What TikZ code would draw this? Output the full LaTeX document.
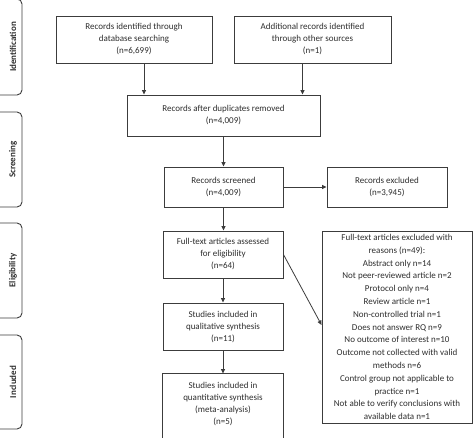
\documentclass[tikz,border=0pt]{standalone}
\usepackage{fontspec}
\setmainfont{Carlito}
\usetikzlibrary{arrows.meta,calc}
\definecolor{ln}{HTML}{3C3C3C}
\definecolor{tx}{HTML}{2E2E2E}
\tikzset{
  box/.style={draw=ln, line width=0.9pt, rectangle, align=center, text=tx,
    font=\fontsize{9}{12}\selectfont, inner sep=0pt},
  frameline/.style={draw=ln, line width=0.9pt},
  arr/.style={draw=ln, line width=0.8pt, -{Triangle[length=4.5pt,width=4pt]}},
  phase/.style={draw=ln, line width=0.9pt, rounded corners=5pt, rectangle, inner sep=0pt},
  phaselabel/.style={rotate=90, text=tx, font=\bfseries\fontsize{9}{11}\selectfont}
}
\begin{document}
\begin{tikzpicture}[x=1pt,y=-1pt]
\useasboundingbox (0,0) rectangle (474,438);
\clip (0,0) rectangle (474,438);
\fill[white] (0,0) rectangle (474,438);

% phase frames
\node[phase, minimum width=32pt, minimum height=96pt] (pidf) at (6,47) {};
\node[phaselabel] (lidf) at (13,47) {Identification};
\node[phase, minimum width=32pt, minimum height=95pt] (pscr) at (6,159.5) {};
\node[phaselabel] (lscr) at (13,159.5) {Screening};
\node[phase, minimum width=32pt, minimum height=95pt] (pelg) at (6,270.5) {};
\node[phaselabel] (lelg) at (13,270.5) {Eligibility};
\node[phase, minimum width=32pt, minimum height=94pt] (pinc) at (6,382) {};
\node[phaselabel] (linc) at (13,382) {Included};

% boxes
\node[box, minimum width=156pt, minimum height=47pt] (db) at (134,39.5)
  {Records identified through\\database searching\\(n=6,699)};
\node[box, minimum width=157pt, minimum height=47pt] (add) at (312.5,39.5)
  {Additional records identified\\through other sources\\(n=1)};
\node[box, minimum width=193pt, minimum height=41pt] (dup) at (223.5,115.5)
  {Records after duplicates removed\\(n=4,009)};
\node[box, minimum width=119pt, minimum height=40pt] (scr) at (223.5,187)
  {Records screened\\(n=4,009)};
\node[box, minimum width=120pt, minimum height=40pt] (exc) at (387,187)
  {Records excluded\\(n=3,945)};
\node[box, minimum width=120pt, minimum height=47pt] (ft) at (223,254.5)
  {Full-text articles assessed\\for eligibility\\(n=64)};
\node[box, minimum width=120pt, minimum height=47pt] (qual) at (223,326.5)
  {Studies included in\\qualitative synthesis\\(n=11)};
\node[box, draw=none, minimum width=120pt, minimum height=60pt] (quant) at (223,404)
  {Studies included in\\quantitative synthesis\\(meta-analysis)\\(n=5)};
\draw[frameline] ($(quant.south west)+(0,20)$) -- (quant.north west) -- (quant.north east) -- ($(quant.south east)+(0,20)$);
\node[box, minimum width=150pt, minimum height=192pt, font=\fontsize{9}{12.8}\selectfont] (rsn) at (397,327)
  {Full-text articles excluded with\\reasons (n=49):\\Abstract only n=14\\Not peer-reviewed article n=2\\Protocol only n=4\\Review article n=1\\Non-controlled trial n=1\\Does not answer RQ n=9\\No outcome of interest n=10\\Outcome not collected with valid\\methods n=6\\Control group not applicable to\\practice n=1\\Not able to verify conclusions with\\available data n=1};

% connectors
\draw[arr] ([xshift=10pt]db.south) -- ([xshift=10pt]db.south |- dup.north);
\draw[arr] ([xshift=-10pt]add.south) -- ([xshift=-10pt]add.south |- dup.north);
\draw[arr] (dup.south) -- (dup.south |- scr.north);
\draw[arr] (scr.east) -- (exc.west);
\draw[arr] (scr.south) -- (scr.south |- ft.north);
\draw[arr] (ft.south) -- (qual.north);
\draw[arr] (qual.south) -- (quant.north);
\draw[arr] (ft.east) -- ([yshift=2pt]rsn.west);
\end{tikzpicture}
\end{document}
